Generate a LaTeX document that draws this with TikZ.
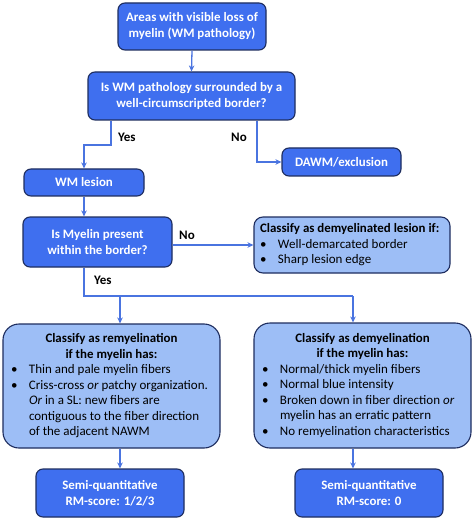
\documentclass[tikz,border=0pt]{standalone}
\usepackage{fontspec}
\setmainfont{Carlito}
\usetikzlibrary{arrows.meta,calc}
\definecolor{darkfill}{RGB}{63,111,239}
\definecolor{lightfill}{RGB}{157,190,246}
\definecolor{navy}{RGB}{30,45,95}
\definecolor{arrowc}{RGB}{74,116,224}
\newcommand\bul[1]{\par\noindent\hangindent=18pt\hangafter=1\makebox[18pt][l]{•}#1}
\tikzset{
  darkbox/.style={draw=navy, fill=darkfill, rounded corners=7pt, line width=1.1pt,
    text=white, font=\bfseries\fontsize{12.9}{16}\selectfont, align=center, inner sep=0pt},
  lightbox/.style={draw=navy, fill=lightfill, rounded corners=16pt, line width=1.1pt,
    text=black, font=\fontsize{13}{15.5}\selectfont, inner sep=0pt},
  arr/.style={draw=arrowc, line width=1.3pt, -{Stealth[length=6pt,width=5.5pt]}},
  ln/.style={draw=arrowc, line width=1.3pt},
  lbl/.style={font=\bfseries\fontsize{13}{14}\selectfont, text=black, inner sep=0pt}
}
\newcommand\ttlfont{\bfseries\fontsize{12.9}{15.5}\selectfont}
\begin{document}
\begin{tikzpicture}[x=1pt,y=-1pt]
\useasboundingbox (0,0) rectangle (474,521);
\fill[white] (0,0) rectangle (474,521);

\node[darkbox, minimum width=148pt, minimum height=47pt] (b1) at (192,26.5)
  {Areas with visible loss of\\myelin (WM pathology)};
\node[darkbox, minimum width=207pt, minimum height=48pt] (b2) at (191.5,96)
  {Is WM pathology surrounded by a\\well-circumscripted border?};
\node[darkbox, minimum width=119pt, minimum height=28pt] (dawm) at (341.5,162)
  {DAWM/exclusion};
\node[darkbox, minimum width=120pt, minimum height=27pt] (wml) at (84,182.5)
  {WM lesion};
\node[darkbox, minimum width=149pt, minimum height=50pt] (myq) at (97.5,242)
  {Is Myelin present\\within the border?};
\node[lightbox, rounded corners=9pt, minimum width=196pt, minimum height=56pt] (dml) at (352,245)
  {\parbox{184pt}{{\ttlfont Classify as demyelinated lesion if:\par}
   \bul{Well-demarcated border}
   \bul{Sharp lesion edge}}};
\node[lightbox, minimum width=217pt, minimum height=124pt] (rem) at (111.5,386)
  {\parbox{201pt}{{\centering\ttlfont Classify as remyelination\\if the myelin has:\par}
   \bul{Thin and pale myelin fibers}
   \bul{Criss-cross \textit{or} patchy organization.\\\textit{Or} in a SL: new fibers are\\contiguous to the fiber direction\\of the adjacent NAWM}}};
\node[lightbox, minimum width=217pt, minimum height=125pt] (dem) at (362.5,385.5)
  {\parbox{201pt}{{\centering\ttlfont Classify as demyelination\\if the myelin has:\par}
   \bul{Normal/thick myelin fibers}
   \bul{Normal blue intensity}
   \bul{Broken down in fiber direction \textit{or}\\myelin has an erratic pattern}
   \bul{No remyelination characteristics}}};
\node[darkbox, minimum width=148pt, minimum height=48pt] (s1) at (110,493)
  {Semi-quantitative\\RM-score: 1/2/3};
\node[darkbox, minimum width=148pt, minimum height=48pt] (s0) at (369,493)
  {Semi-quantitative\\RM-score: 0};

\coordinate (yesx) at (111,145);
\coordinate (nox) at (257,162);
\coordinate (split) at (84,296);
\coordinate (lx) at (120,296);
\coordinate (rx) at (353,296);

\draw[arr] (b1.south) -- (b2.north);
\draw[arr] (b2.south -| yesx) -- (yesx) -| (wml.north);
\draw[arr] (b2.south -| nox) -- (nox) -- (dawm.west);
\draw[arr] (wml.south) -- (wml.south |- myq.north);
\draw[arr] (myq.east |- dml.west) -- (dml.west);
\draw[ln] (myq.south -| split) -- (split) -- (rx);
\draw[arr] (lx) -- (lx |- rem.north);
\draw[arr] (rx) -- (rx |- dem.north);
\draw[arr] (rem.south -| lx) -- (lx |- s1.north);
\draw[arr] (dem.south -| rx) -- (rx |- s0.north);

\node[lbl, anchor=west] at (118,137) {Yes};
\node[lbl, anchor=west] at (231,137) {No};
\node[lbl, anchor=west] at (179,235) {No};
\node[lbl, anchor=west] at (94,280) {Yes};
\end{tikzpicture}
\end{document}
